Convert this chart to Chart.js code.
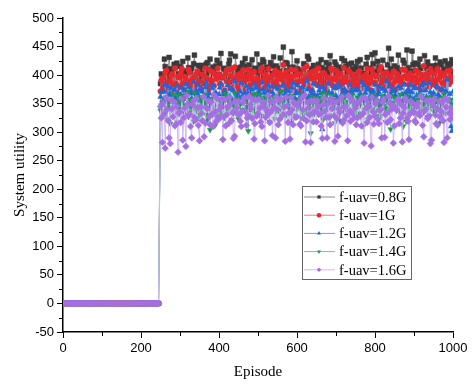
<!DOCTYPE html>
<html>
<head>
<meta charset="utf-8">
<script src="https://cdn.jsdelivr.net/npm/chart.js@4.4.1/dist/chart.umd.min.js"></script>
<style>
  html, body { margin: 0; padding: 0; background: #fff; }
  canvas { display: block; }
</style>
</head>
<body>
<canvas id="utilityChart" width="474" height="385"></canvas>
<script>
// episodes 0-245: nothing learned yet, utility stays at 0
const idleEpisodes = [
  0, 5, 10, 15, 20, 25, 30, 35, 40, 45, 50, 55, 60, 65, 70, 75, 80, 85, 90, 95,
  100, 105, 110, 115, 120, 125, 130, 135, 140, 145, 150, 155, 160, 165, 170, 175, 180, 185, 190, 195,
  200, 205, 210, 215, 220, 225, 230, 235, 240, 245
];
const idleUtility = [
  0, 0, 0, 0, 0, 0, 0, 0, 0, 0, 0, 0, 0, 0, 0, 0, 0, 0, 0, 0, 0, 0, 0, 0, 0,
  0, 0, 0, 0, 0, 0, 0, 0, 0, 0, 0, 0, 0, 0, 0, 0, 0, 0, 0, 0, 0, 0, 0, 0, 0
];

// episodes 250-1000, two interleaved samples per 5 episodes
const activeEpisodes = [
  250, 255, 260, 265, 270, 275, 280, 285, 290, 295, 300, 305, 310, 315, 320, 325, 330, 335, 340, 345,
  350, 355, 360, 365, 370, 375, 380, 385, 390, 395, 400, 405, 410, 415, 420, 425, 430, 435, 440, 445,
  450, 455, 460, 465, 470, 475, 480, 485, 490, 495, 500, 505, 510, 515, 520, 525, 530, 535, 540, 545,
  550, 555, 560, 565, 570, 575, 580, 585, 590, 595, 600, 605, 610, 615, 620, 625, 630, 635, 640, 645,
  650, 655, 660, 665, 670, 675, 680, 685, 690, 695, 700, 705, 710, 715, 720, 725, 730, 735, 740, 745,
  750, 755, 760, 765, 770, 775, 780, 785, 790, 795, 800, 805, 810, 815, 820, 825, 830, 835, 840, 845,
  850, 855, 860, 865, 870, 875, 880, 885, 890, 895, 900, 905, 910, 915, 920, 925, 930, 935, 940, 945,
  950, 955, 960, 965, 970, 975, 980, 985, 990, 995, 1000
];
const midEpisodes = [
  252, 257, 262, 267, 272, 277, 282, 287, 292, 297, 302, 307, 312, 317, 322, 327, 332, 337, 342, 347,
  352, 357, 362, 367, 372, 377, 382, 387, 392, 397, 402, 407, 412, 417, 422, 427, 432, 437, 442, 447,
  452, 457, 462, 467, 472, 477, 482, 487, 492, 497, 502, 507, 512, 517, 522, 527, 532, 537, 542, 547,
  552, 557, 562, 567, 572, 577, 582, 587, 592, 597, 602, 607, 612, 617, 622, 627, 632, 637, 642, 647,
  652, 657, 662, 667, 672, 677, 682, 687, 692, 697, 702, 707, 712, 717, 722, 727, 732, 737, 742, 747,
  752, 757, 762, 767, 772, 777, 782, 787, 792, 797, 802, 807, 812, 817, 822, 827, 832, 837, 842, 847,
  852, 857, 862, 867, 872, 877, 882, 887, 892, 897, 902, 907, 912, 917, 922, 927, 932, 937, 942, 947,
  952, 957, 962, 967, 972, 977, 982, 987, 992, 997
];

const utility08 = [
  385, 398, 428, 392, 405, 411, 388, 419, 396, 402, 415, 393, 407, 399, 430, 388, 412, 420, 395, 404,
  391, 417, 403, 386, 422, 409, 398, 414, 393, 426, 401, 438, 395, 410, 389, 419, 437, 404, 392, 413,
  407, 396, 421, 388, 415, 402, 394, 427, 399, 410, 386, 418, 405, 423, 397, 409, 391, 416, 432, 400,
  412, 394, 406, 449, 398, 420, 403, 389, 414, 401, 425, 395, 408, 392, 417, 404, 428, 397, 411, 390,
  406, 419, 399, 413, 387, 422, 402, 434, 396, 408, 418, 391, 410, 429, 400, 415, 393, 405, 421, 398,
  409, 424, 388, 412, 403, 396, 431, 407, 392, 420, 439, 401, 414, 397, 426, 405, 390, 447, 411, 399,
  416, 404, 435, 393, 409, 421, 398, 413, 402, 442, 407, 395, 419, 428, 401, 412, 389, 423, 404, 416,
  397, 430, 408, 392, 418, 403, 425, 399, 411, 420, 406
];
const utility08Mid = [
  402, 389, 415, 397, 431, 394, 408, 386, 421, 399, 396, 424, 401, 388, 413, 406, 393, 435, 400, 417,
  410, 395, 386, 419, 403, 428, 391, 407, 416, 398, 420, 397, 412, 401, 393, 426, 409, 388, 433, 404,
  392, 414, 400, 429, 396, 418, 407, 390, 412, 437, 405, 399, 427, 391, 414, 396, 422, 403, 389, 416,
  398, 430, 392, 408, 422, 395, 413, 441, 400, 386, 411, 403, 389, 420, 398, 433, 394, 409, 417, 402,
  391, 412, 427, 401, 396, 410, 418, 393, 405, 423, 403, 414, 397, 388, 425, 407, 419, 396, 411, 389,
  415, 398, 427, 402, 391, 419, 404, 412, 436, 397, 406, 424, 393, 410, 401, 389, 418, 403, 428, 395,
  399, 413, 405, 390, 426, 397, 444, 407, 392, 418, 421, 403, 396, 412, 389, 434, 400, 415, 397, 409,
  392, 417, 404, 423, 398, 410, 389, 419, 402, 427
];
const utility10 = [
  372, 395, 381, 408, 376, 390, 402, 369, 385, 398, 380, 411, 374, 393, 386, 404, 371, 396, 383, 407,
  389, 375, 400, 412, 378, 392, 384, 405, 367, 394, 401, 382, 396, 373, 409, 387, 399, 378, 414, 390,
  376, 403, 388, 397, 370, 410, 383, 394, 406, 379, 392, 385, 413, 377, 401, 389, 372, 398, 386, 408,
  381, 404, 393, 418, 375, 396, 387, 410, 379, 399, 388, 371, 402, 391, 383, 415, 377, 394, 406, 385,
  397, 412, 380, 389, 403, 374, 395, 386, 409, 392, 378, 401, 390, 384, 413, 396, 369, 405, 388, 400,
  394, 382, 407, 376, 398, 391, 411, 385, 373, 402, 387, 399, 380, 414, 393, 378, 404, 389, 397, 383,
  406, 375, 395, 388, 410, 384, 399, 372, 403, 391, 381, 408, 392, 377, 400, 416, 386, 395, 379, 405,
  390, 383, 411, 396, 374, 402, 388, 407, 384, 398, 392
];
const utility10Mid = [
  391, 378, 404, 386, 370, 399, 383, 412, 375, 396, 404, 385, 397, 369, 410, 381, 393, 376, 402, 388,
  379, 401, 386, 394, 373, 408, 390, 381, 399, 412, 385, 396, 371, 403, 389, 377, 410, 394, 382, 400,
  398, 383, 409, 375, 392, 401, 368, 405, 387, 394, 376, 406, 390, 398, 382, 411, 396, 379, 403, 388,
  395, 372, 400, 387, 405, 380, 398, 391, 374, 409, 402, 389, 377, 411, 395, 384, 403, 372, 396, 408,
  383, 399, 391, 404, 378, 397, 386, 412, 381, 395, 407, 386, 402, 373, 392, 388, 408, 379, 400, 385,
  380, 405, 389, 397, 384, 401, 376, 395, 410, 387, 398, 375, 408, 386, 403, 392, 381, 399, 373, 406,
  389, 402, 378, 396, 385, 409, 394, 383, 400, 379, 396, 387, 404, 381, 393, 376, 402, 389, 411, 384,
  403, 391, 377, 405, 386, 399, 382, 394, 408, 389
];
const utility12 = [
  362, 348, 371, 355, 380, 366, 342, 374, 358, 369, 351, 377, 363, 384, 345, 370, 359, 388, 353, 367,
  374, 339, 361, 379, 356, 368, 347, 382, 364, 350, 366, 385, 352, 372, 360, 343, 376, 357, 389, 362,
  349, 371, 364, 354, 381, 367, 338, 375, 360, 378, 363, 352, 387, 369, 346, 373, 358, 380, 365, 341,
  376, 361, 350, 383, 368, 355, 372, 344, 386, 359, 370, 347, 364, 378, 353, 390, 362, 349, 374, 366,
  355, 381, 368, 305, 373, 360, 385, 352, 369, 377, 364, 350, 379, 366, 357, 371, 345, 383, 361, 374,
  348, 375, 362, 387, 354, 369, 378, 340, 365, 372, 383, 358, 370, 351, 376, 363, 389, 356, 367, 346,
  372, 361, 380, 349, 366, 384, 353, 375, 362, 370, 357, 377, 345, 368, 382, 359, 373, 350, 386, 364,
  369, 352, 378, 363, 347, 374, 360, 392, 355, 310, 371
];
const utility12Mid = [
  370, 355, 383, 346, 365, 377, 352, 360, 381, 340, 366, 350, 374, 358, 379, 343, 368, 356, 372, 383,
  355, 371, 350, 386, 362, 345, 377, 359, 369, 352, 378, 348, 366, 357, 382, 363, 351, 373, 344, 367,
  360, 386, 353, 369, 342, 377, 364, 356, 384, 351, 371, 359, 375, 348, 366, 382, 354, 370, 347, 379,
  352, 367, 381, 357, 374, 345, 363, 378, 350, 368, 382, 356, 349, 369, 360, 375, 343, 367, 385, 355,
  364, 373, 351, 378, 358, 348, 370, 362, 345, 380, 357, 384, 362, 347, 376, 365, 353, 372, 368, 349,
  373, 355, 368, 360, 382, 344, 375, 358, 370, 363, 350, 366, 379, 358, 345, 372, 361, 380, 352, 376,
  365, 348, 359, 377, 355, 368, 342, 371, 383, 357, 378, 364, 352, 373, 349, 385, 362, 356, 370, 345,
  360, 380, 366, 350, 376, 358, 372, 346, 367, 302
];
const utility14 = [
  338, 352, 327, 361, 344, 315, 356, 333, 349, 364, 341, 326, 358, 347, 370, 335, 352, 319, 345, 360,
  330, 355, 343, 366, 321, 349, 338, 359, 312, 346, 357, 334, 350, 325, 362, 342, 355, 331, 368, 340,
  323, 351, 339, 358, 345, 302, 348, 363, 336, 354, 344, 366, 329, 352, 340, 357, 318, 349, 361, 335,
  353, 338, 371, 345, 327, 356, 343, 364, 330, 350, 339, 358, 324, 347, 362, 334, 351, 298, 346, 359,
  348, 331, 355, 368, 337, 352, 341, 326, 363, 344, 357, 342, 320, 350, 336, 365, 347, 330, 354, 339,
  343, 361, 333, 356, 310, 348, 359, 337, 352, 366, 334, 350, 345, 327, 363, 340, 356, 343, 305, 351,
  360, 338, 349, 366, 332, 354, 319, 347, 358, 341, 346, 329, 357, 340, 364, 335, 350, 326, 345, 362,
  337, 355, 342, 316, 348, 360, 333, 352, 340, 357, 344
];
const utility14Mid = [
  347, 330, 359, 322, 352, 340, 366, 335, 318, 355, 350, 363, 333, 344, 327, 357, 342, 368, 337, 325,
  361, 340, 352, 331, 347, 304, 356, 344, 365, 336, 329, 358, 345, 367, 338, 351, 322, 347, 335, 359,
  346, 333, 362, 340, 355, 349, 328, 338, 367, 342, 358, 327, 343, 361, 334, 346, 352, 337, 324, 363,
  337, 349, 328, 356, 362, 333, 347, 320, 355, 341, 354, 343, 365, 331, 339, 355, 342, 361, 329, 348,
  333, 360, 342, 322, 351, 366, 330, 354, 343, 316, 349, 331, 358, 344, 362, 327, 352, 339, 366, 345,
  328, 352, 347, 365, 338, 356, 322, 349, 341, 358, 361, 339, 329, 353, 346, 318, 359, 336, 364, 342,
  344, 357, 336, 351, 310, 347, 363, 332, 349, 355, 331, 352, 366, 336, 348, 357, 341, 360, 329, 353,
  350, 338, 359, 345, 331, 366, 343, 355, 338, 349
];
const utility16 = [
  345, 282, 333, 360, 320, 280, 341, 353, 314, 265, 336, 358, 325, 275, 350, 331, 290, 355, 321, 343,
  285, 333, 362, 316, 341, 327, 353, 310, 336, 359, 323, 346, 287, 357, 331, 315, 350, 335, 293, 342,
  354, 319, 337, 360, 312, 329, 348, 324, 288, 356, 333, 342, 310, 351, 326, 364, 317, 338, 353, 290,
  340, 322, 358, 331, 284, 346, 334, 361, 313, 349, 327, 352, 311, 339, 365, 320, 343, 282, 334, 355,
  318, 344, 332, 289, 359, 326, 350, 313, 341, 329, 353, 293, 335, 362, 321, 346, 285, 337, 357, 324,
  342, 325, 354, 311, 333, 360, 317, 345, 276, 336, 329, 356, 315, 340, 352, 291, 334, 363, 322, 347,
  311, 339, 358, 325, 283, 343, 355, 319, 332, 350, 335, 317, 351, 329, 361, 292, 340, 324, 356, 286,
  346, 330, 312, 354, 337, 320, 359, 290, 333, 343, 327
];
const utility16Mid = [
  325, 351, 272, 340, 290, 356, 327, 311, 345, 333, 317, 286, 342, 364, 330, 310, 348, 326, 359, 312,
  345, 320, 292, 343, 355, 313, 331, 365, 318, 327, 340, 358, 327, 311, 344, 361, 320, 289, 354, 332,
  331, 310, 352, 336, 325, 363, 341, 357, 315, 328, 358, 318, 346, 285, 339, 332, 354, 294, 343, 362,
  313, 355, 329, 344, 361, 317, 288, 339, 352, 326, 346, 314, 360, 324, 283, 352, 330, 355, 318, 337,
  355, 332, 311, 348, 337, 290, 326, 359, 351, 284, 324, 341, 357, 316, 344, 329, 364, 319, 333, 352,
  313, 351, 328, 360, 281, 342, 353, 326, 361, 314, 350, 322, 338, 290, 358, 331, 317, 351, 340, 281,
  342, 356, 315, 349, 333, 360, 325, 287, 354, 337, 320, 345, 333, 363, 312, 337, 355, 328, 280, 349,
  358, 315, 340, 327, 352, 282, 344, 356, 322, 334
];

const seriesLabels = ['f-uav=0.8G', 'f-uav=1G', 'f-uav=1.2G', 'f-uav=1.4G', 'f-uav=1.6G'];
const xMinorTicks = [100, 300, 500, 700, 900];
const yMinorTicks = [-25, 25, 75, 125, 175, 225, 275, 325, 375, 425, 475];

function toPoints(values, midValues) {
  const pts = idleEpisodes.map((e, i) => ({ x: e, y: idleUtility[i] }));
  activeEpisodes.forEach((e, i) => {
    pts.push({ x: e, y: values[i] });
    if (i < midEpisodes.length) pts.push({ x: midEpisodes[i], y: midValues[i] });
  });
  return pts;
}

function makeSeries(i, values, midValues, lineColor, markColor, style, radius, rotation) {
  return {
    label: seriesLabels[i],
    data: toPoints(values, midValues),
    borderColor: lineColor,
    borderWidth: 1,
    pointBackgroundColor: markColor,
    pointBorderColor: markColor,
    pointBorderWidth: 0.5,
    pointStyle: style,
    pointRadius: radius,
    pointRotation: rotation,
    tension: 0,
    fill: false,
    order: 5 - i
  };
}

const minorTicks = {
  id: 'minorTicks',
  afterDraw(chart) {
    const { ctx, scales: { x, y } } = chart;
    ctx.save();
    ctx.strokeStyle = '#000';
    ctx.lineWidth = 1;
    ctx.beginPath();
    xMinorTicks.forEach(v => {
      const px = Math.round(x.getPixelForValue(v)) + 0.5;
      ctx.moveTo(px, x.top);
      ctx.lineTo(px, x.top + 4);
    });
    yMinorTicks.forEach(v => {
      const py = Math.round(y.getPixelForValue(v)) + 0.5;
      ctx.moveTo(y.right - 4, py);
      ctx.lineTo(y.right, py);
    });
    ctx.stroke();
    ctx.restore();
  }
};

// boxed legend inside the plot, like the Origin one
const legendBox = {
  id: 'legendBox',
  afterDraw(chart) {
    const ctx = chart.ctx;
    const x0 = 302, y0 = 186, w = 109, h = 93;
    ctx.save();
    ctx.fillStyle = '#fff';
    ctx.fillRect(x0, y0, w, h);
    ctx.strokeStyle = '#666';
    ctx.lineWidth = 1;
    ctx.strokeRect(x0 + 0.5, y0 + 0.5, w, h);
    chart.data.datasets.forEach((ds, i) => {
      const y = y0 + 11 + i * 18.2;
      ctx.strokeStyle = ds.borderColor;
      ctx.lineWidth = 1;
      ctx.beginPath();
      ctx.moveTo(x0 + 2, y);
      ctx.lineTo(x0 + 33, y);
      ctx.stroke();
      ctx.fillStyle = ds.pointBackgroundColor;
      Chart.helpers.drawPoint(ctx, {
        pointStyle: ds.pointStyle, radius: 2.3, rotation: ds.pointRotation, borderWidth: 0
      }, x0 + 17, y);
      ctx.fillStyle = '#000';
      ctx.font = '14.5px "Liberation Serif"';
      ctx.textBaseline = 'middle';
      ctx.textAlign = 'left';
      ctx.fillText(ds.label, x0 + 37, y + 1);
    });
    ctx.restore();
  }
};

const tickFont = { family: 'Liberation Sans', size: 13 };
const titleFont = { family: 'Liberation Serif', size: 15 };

new Chart(document.getElementById('utilityChart').getContext('2d'), {
  type: 'line',
  data: {
    datasets: [
      makeSeries(0, utility08, utility08Mid, '#8a8a8a', '#3a3a3a', 'rect', 3.4, 0),
      makeSeries(1, utility10, utility10Mid, '#f07878', '#e8262c', 'circle', 2.7, 0),
      makeSeries(2, utility12, utility12Mid, '#6fa3ea', '#1f66d8', 'triangle', 3.2, 0),
      makeSeries(3, utility14, utility14Mid, '#6cc79d', '#1f9656', 'triangle', 3.2, 180),
      makeSeries(4, utility16, utility16Mid, '#cfb8f0', '#a56ee2', 'rectRot', 3.4, 0)
    ]
  },
  options: {
    responsive: false,
    animation: false,
    layout: { padding: { left: 8, top: 18, right: 21, bottom: 0 } },
    plugins: {
      legend: { display: false },
      tooltip: { enabled: false }
    },
    scales: {
      x: {
        type: 'linear',
        min: 0,
        max: 1000,
        ticks: { stepSize: 200, color: '#000', font: tickFont, padding: 3, maxRotation: 0, callback: v => String(v) },
        grid: { drawOnChartArea: false, tickLength: 6, tickColor: '#000', tickWidth: 1 },
        border: { color: '#000', width: 1.5 },
        title: { display: true, text: 'Episode', color: '#000', font: titleFont, padding: { top: 2, bottom: 4 } },
        afterFit(scale) { scale.height = 53; }
      },
      y: {
        min: -50,
        max: 500,
        ticks: { stepSize: 50, color: '#000', font: tickFont, padding: 3, callback: v => String(v) },
        grid: { drawOnChartArea: false, tickLength: 6, tickColor: '#000', tickWidth: 1 },
        border: { color: '#000', width: 1.5 },
        title: { display: true, text: 'System utility', color: '#000', font: titleFont, padding: { top: 3, bottom: 2 } },
        afterFit(scale) { scale.width = 55; }
      }
    }
  },
  plugins: [minorTicks, legendBox]
});
</script>
</body>
</html>
